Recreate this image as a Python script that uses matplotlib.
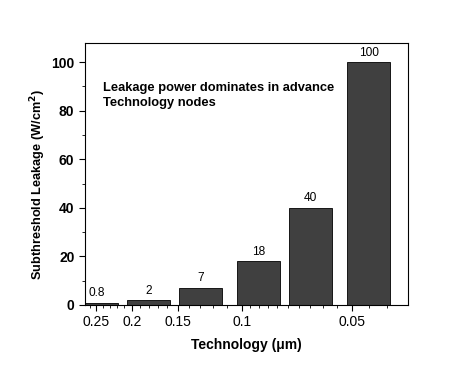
import numpy as np
import matplotlib
matplotlib.use("Agg")
import matplotlib.pyplot as plt
from matplotlib.ticker import FixedLocator, NullFormatter

plt.rcParams['font.family'] = ['Liberation Sans', 'DejaVu Sans']

nodes = [0.25, 0.18, 0.13, 0.09, 0.065, 0.045]   # technology node (um)
leakage = [0.8, 2, 7, 18, 40, 100]                # W/cm^2
value_labels = ['0.8', '2', '7', '18', '40', '100']
xtick_vals = [0.25, 0.2, 0.15, 0.1, 0.05]
xtick_labels = ['0.25', '0.2', '0.15', '0.1', '0.05']

fig = plt.figure(figsize=(4.74, 3.66), dpi=100)
ax = fig.add_axes([0.179, 0.167, 0.682, 0.716])
ax.set_xscale('log')

# bars of equal width on the log axis
half = 10 ** 0.059
nodes = np.array(nodes)
lo = nodes / half
hi = nodes * half
ax.bar(lo, leakage, width=hi - lo, align='edge', color='#404040',
       edgecolor='black', linewidth=0.6)

for x, y, t in zip(nodes, leakage, value_labels):
    ax.annotate(t, (x, y), xytext=(0, 2.5), textcoords='offset points',
                ha='center', va='bottom', fontsize=8.6)

ax.set_xlim(0.269, 0.0351)
ax.set_ylim(0, 108)

ax.xaxis.set_major_locator(FixedLocator(xtick_vals))
ax.set_xticklabels(xtick_labels)
minor = list(np.arange(0.27, 0.1, -0.01)) + list(np.arange(0.1, 0.034, -0.005))
ax.xaxis.set_minor_locator(FixedLocator(minor))
ax.xaxis.set_minor_formatter(NullFormatter())

ax.set_yticks([0, 20, 40, 60, 80, 100])
ax.set_yticks(np.arange(0, 108, 10), minor=True)

ax.tick_params(axis='both', which='major', direction='out', length=4, width=0.8, labelsize=10)
ax.tick_params(axis='both', which='minor', direction='out', length=2, width=0.6)
for lab in ax.get_yticklabels():
    lab.set_fontweight('bold')

ax.set_xlabel('Technology (\u03bcm)', fontsize=10, fontweight='bold', labelpad=6)
ax.set_ylabel('Subthreshold Leakage (W/cm$^\\mathbf{2}$)', fontsize=9.2, fontweight='bold')
ax.yaxis.set_label_coords(-0.115, 0.458)

ax.text(0.055, 0.85, 'Leakage power dominates in advance\nTechnology nodes',
        transform=ax.transAxes, fontsize=9.3, fontweight='bold', va='top', linespacing=1.3)

fig.savefig('out.png', dpi=100)
